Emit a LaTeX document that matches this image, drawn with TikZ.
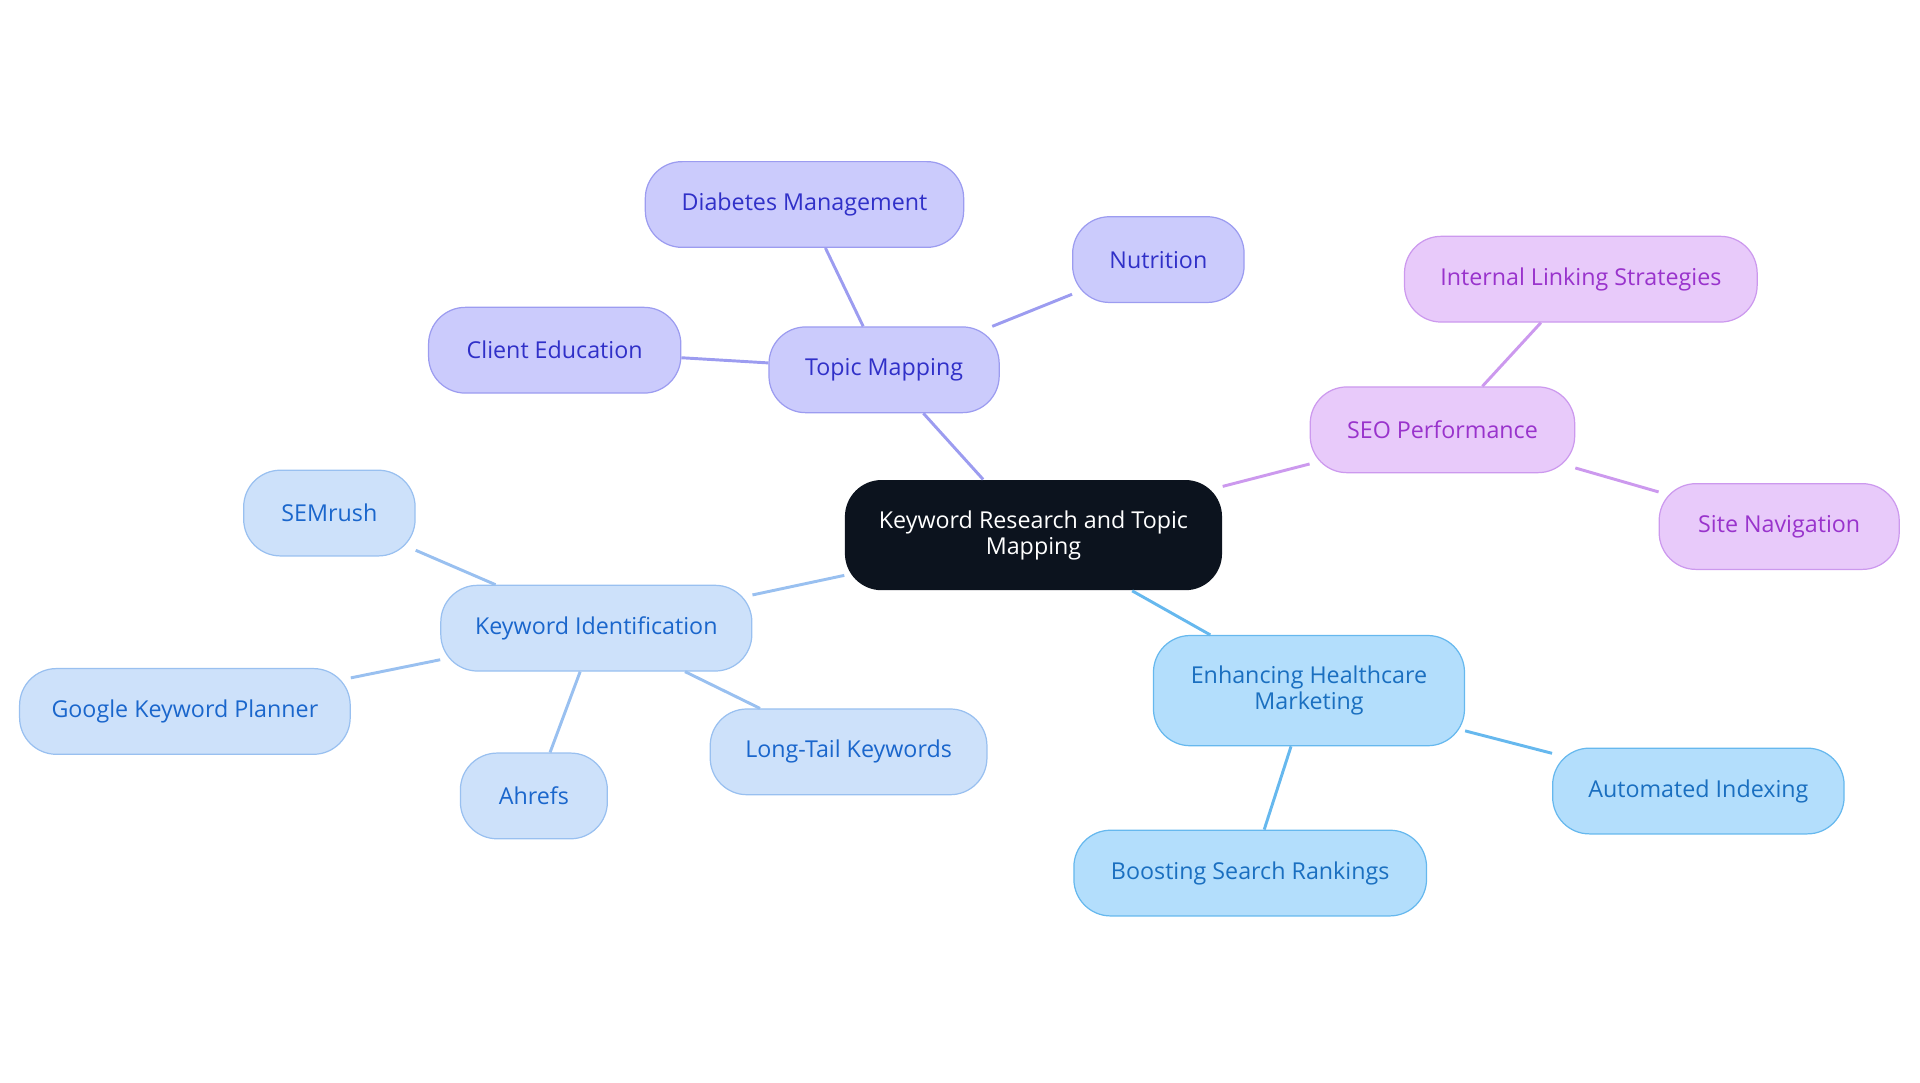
\documentclass[tikz,border=0pt]{standalone}
\usepackage{fontspec}
\setmainfont{Open Sans}
\definecolor{ctr}{HTML}{0C131E}
\definecolor{pF}{HTML}{CBCBFC}\definecolor{pB}{HTML}{9C9CF0}\definecolor{pT}{HTML}{3030C8}
\definecolor{mF}{HTML}{E8CAFA}\definecolor{mB}{HTML}{CC99EE}\definecolor{mT}{HTML}{9933CC}
\definecolor{lF}{HTML}{CDE1FA}\definecolor{lB}{HTML}{99C0F0}\definecolor{lT}{HTML}{1A66CC}
\definecolor{bF}{HTML}{B3DEFC}\definecolor{bB}{HTML}{66B8EE}\definecolor{bT}{HTML}{1A6FC0}
\tikzset{
 bx/.style={rounded corners=15pt, minimum height=35pt, align=center, font=\fontsize{9.5}{10.5}\selectfont, line width=0.5pt},
 pn/.style={bx, fill=pF, draw=pB, text=pT},
 mn/.style={bx, fill=mF, draw=mB, text=mT},
 ln/.style={bx, fill=lF, draw=lB, text=lT},
 bn/.style={bx, fill=bF, draw=bB, text=bT},
 pe/.style={draw=pB, line width=1.2pt},
 me/.style={draw=mB, line width=1.2pt},
 le/.style={draw=lB, line width=1.2pt},
 be/.style={draw=bB, line width=1.2pt},
}
\begin{document}
\begin{tikzpicture}[x=0.5pt,y=-0.5pt]
\useasboundingbox (0,0) rectangle (1568,884);
\node[bx, fill=ctr, text=white, minimum width=154pt, minimum height=45pt] (c) at (844,437) {Keyword Research and Topic\\Mapping};
\node[pn, minimum width=94pt] (tm) at (722,302) {Topic Mapping};
\node[pn, minimum width=130pt] (dm) at (657,167) {Diabetes Management};
\node[pn, minimum width=70pt] (nu) at (946,212) {Nutrition};
\node[pn, minimum width=103pt] (ce) at (453,286) {Client Education};
\node[mn, minimum width=108pt] (seo) at (1178,351) {SEO Performance};
\node[mn, minimum width=144pt] (il) at (1291,228) {Internal Linking Strategies};
\node[mn, minimum width=98pt] (sn) at (1453,430) {Site Navigation};
\node[ln, minimum width=127pt] (ki) at (487,513) {Keyword Identification};
\node[ln, minimum width=70pt] (se) at (269,419) {SEMrush};
\node[ln, minimum width=135pt] (gk) at (151,581) {Google Keyword Planner};
\node[ln, minimum width=60pt] (ah) at (436,650) {Ahrefs};
\node[ln, minimum width=113pt] (lt) at (693,614) {Long-Tail Keywords};
\node[bn, minimum width=127pt, minimum height=45pt] (eh) at (1069,564) {Enhancing Healthcare\\Marketing};
\node[bn, minimum width=144pt] (bs) at (1021,713) {Boosting Search Rankings};
\node[bn, minimum width=119pt] (ai) at (1387,646) {Automated Indexing};
\path[pe] (c) -- (tm); \path[pe] (tm) -- (dm); \path[pe] (tm) -- (nu); \path[pe] (tm) -- (ce);
\path[me] (c) -- (seo); \path[me] (seo) -- (il); \path[me] (seo) -- (sn);
\path[le] (c) -- (ki); \path[le] (ki) -- (se); \path[le] (ki) -- (gk); \path[le] (ki) -- (ah); \path[le] (ki) -- (lt);
\path[be] (c) -- (eh); \path[be] (eh) -- (bs); \path[be] (eh) -- (ai);
\end{tikzpicture}
\end{document}
